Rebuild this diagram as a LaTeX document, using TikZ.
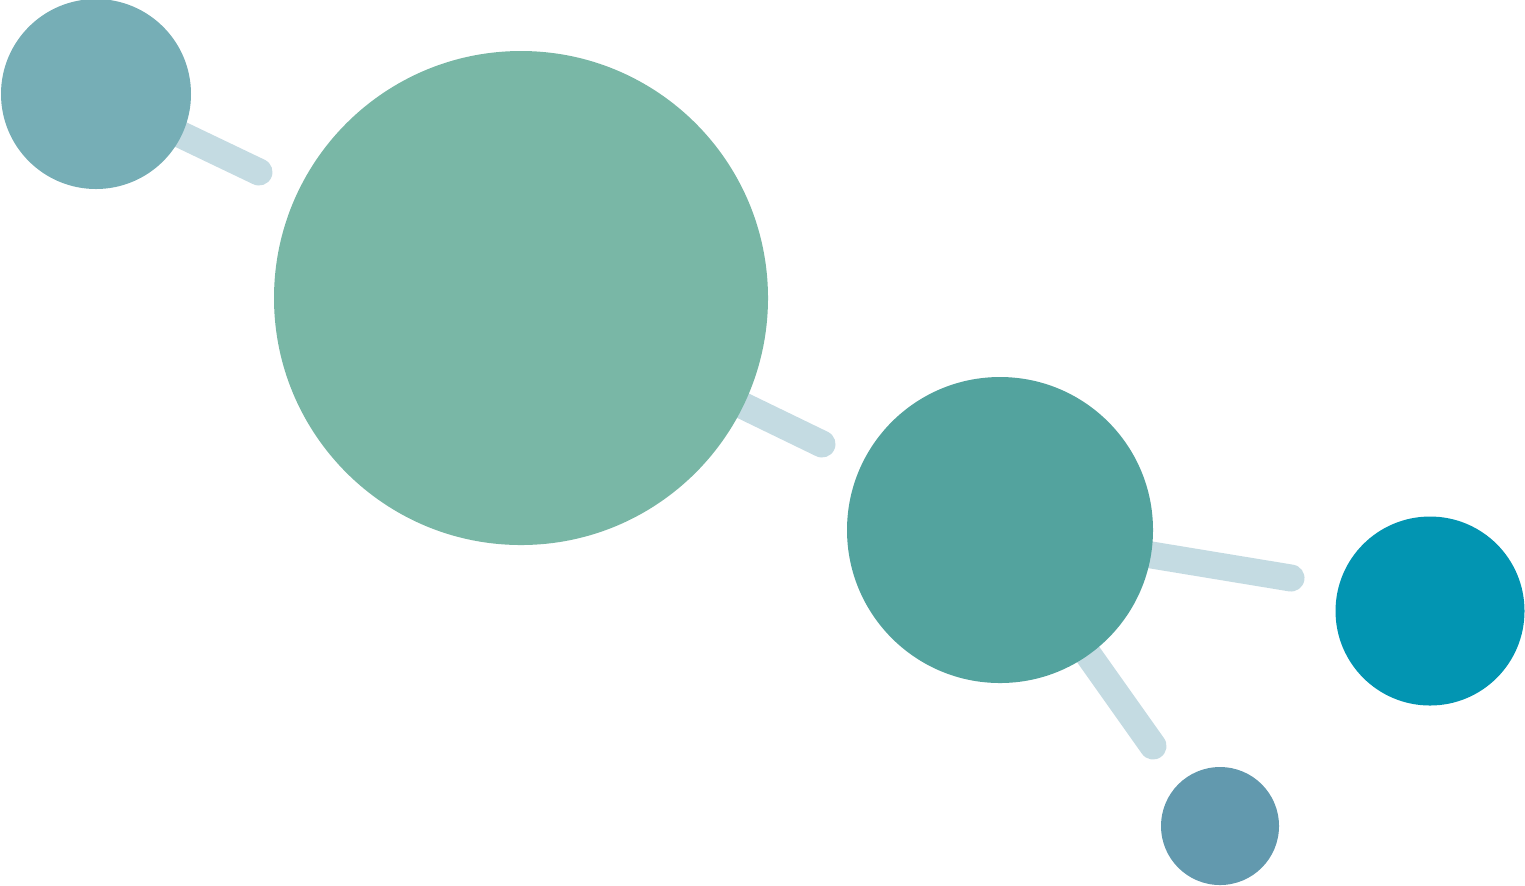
\documentclass[tikz,border=0pt]{standalone}
\usetikzlibrary{backgrounds}

\definecolor{linkblue}{HTML}{C4DBE2}
\definecolor{greyteal}{HTML}{76AEB6}
\definecolor{sagegreen}{HTML}{79B7A6}
\definecolor{midteal}{HTML}{53A39E}
\definecolor{deepcyan}{HTML}{0295B2}
\definecolor{slateblue}{HTML}{6299AE}

\begin{document}
\begin{tikzpicture}[
      blob/.style={
         circle,
         draw=none,
         inner sep=0pt},
      link/.style={draw=linkblue, line width=0.27cm, line cap=round}
      ]
      \useasboundingbox (0,0) rectangle (15.25,-8.85);

      \node[blob,fill=greyteal,minimum size=1.90cm] (b1) at (0.96,-0.94) {};
      \node[blob,fill=sagegreen,minimum size=4.94cm] (b2) at (5.21,-2.98) {};
      \node[blob,fill=midteal,minimum size=3.06cm] (b3) at (10.00,-5.30) {};
      \node[blob,fill=deepcyan,minimum size=1.89cm] (b4) at (14.30,-6.11) {};
      \node[blob,fill=slateblue,minimum size=1.18cm] (b5) at (12.20,-8.26) {};

      \coordinate (e1) at (2.59,-1.72);
      \coordinate (e2) at (8.22,-4.44);
      \coordinate (e3) at (12.91,-5.78);
      \coordinate (e4) at (11.53,-7.46);

    \begin{scope}[on background layer]
    \foreach \i/\j in {% circle/free end
      b1/e1,
      b2/e2,
      b3/e3,
      b3/e4}
       \draw [link] (\i.center) -- (\j);
    \end{scope}

     \end{tikzpicture}
\end{document}
